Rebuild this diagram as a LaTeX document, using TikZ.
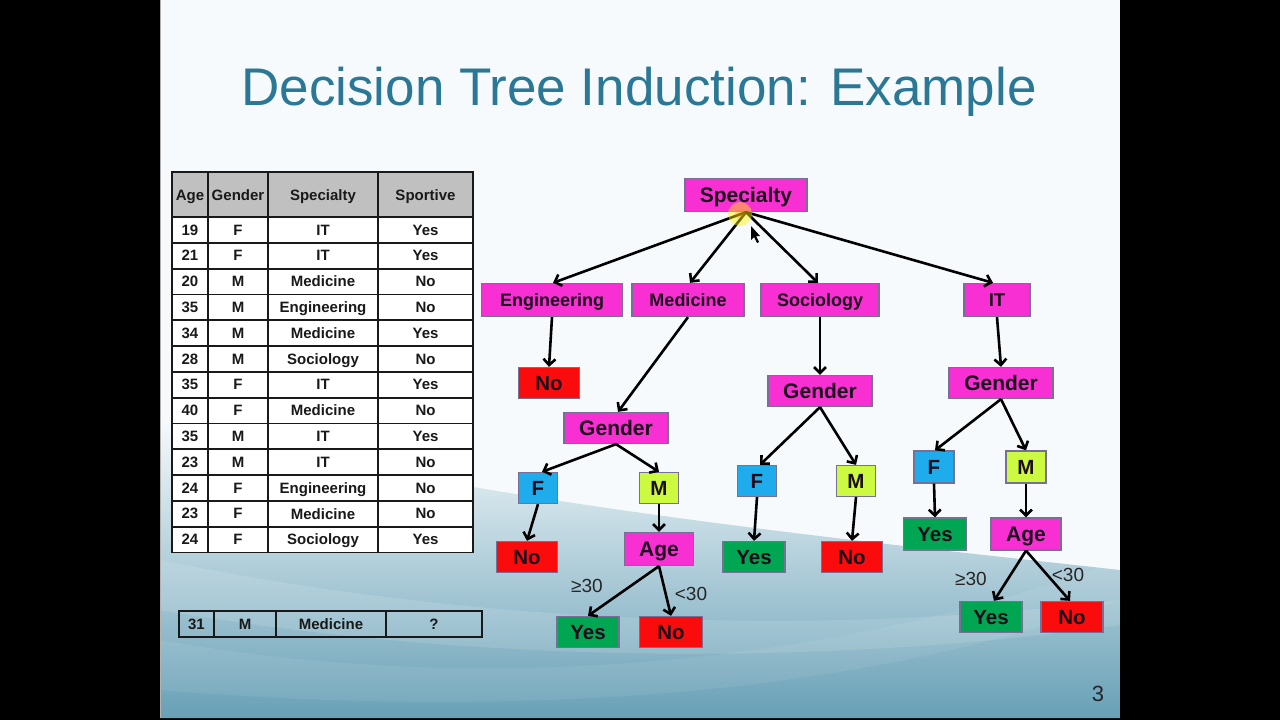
\documentclass[tikz,border=0pt]{standalone}
\usepackage{fontspec}
\setmainfont{Liberation Sans}
\usetikzlibrary{arrows.meta}
\definecolor{slidetop}{RGB}{246,250,252}
\definecolor{slidebot}{RGB}{104,160,182}
\definecolor{titlecol}{RGB}{42,120,150}
\definecolor{magfill}{RGB}{248,48,212}
\definecolor{redfill}{RGB}{250,12,12}
\definecolor{greenfill}{RGB}{0,166,82}
\definecolor{bluefill}{RGB}{30,172,236}
\definecolor{limefill}{RGB}{204,250,64}
\definecolor{boxedge}{RGB}{118,112,150}
\definecolor{headgray}{RGB}{192,192,192}
\definecolor{txtdark}{RGB}{28,12,28}
\newcommand{\fs}[1]{\fontsize{#1}{#1}\selectfont}
\tikzset{
  tbox/.style={draw=boxedge, line width=1.3pt, inner sep=0pt, text=txtdark, font=\fs{20.5}\bfseries, text depth=0pt},
  magbox/.style={tbox, fill=magfill},
  redbox/.style={tbox, fill=redfill},
  greenbox/.style={tbox, fill=greenfill},
  bluebox/.style={tbox, fill=bluefill},
  limebox/.style={tbox, fill=limefill},
  arr/.style={line width=2.6pt, -{Straight Barb[length=6pt,width=12pt]}, black},
  edgelab/.style={font=\fs{19}, text=black!85, inner sep=0pt},
  celltxt/.style={font=\fs{15}\bfseries, inner sep=0pt, text=black!90, text depth=0pt},
  tline/.style={line width=1.8pt, black!90}
}
\begin{document}
\begin{tikzpicture}[x=1pt,y=-1pt]
\useasboundingbox (0,0) rectangle (1280,720);
% background
\fill[black] (0,0) rectangle (1280,720);
\fill[slidetop] (160,0) rectangle (1120,718);
\shade[top color=slidetop, bottom color=slidebot]
  (160,420) .. controls (450,500) and (850,540) .. (1120,570) -- (1120,718) -- (160,718) -- cycle;
\fill[white, opacity=0.12]
  (160,560) .. controls (450,620) and (800,640) .. (1120,600) -- (1120,625) .. controls (800,670) and (450,660) .. (160,610) -- cycle;
\fill[white, opacity=0.07]
  (160,640) .. controls (500,700) and (850,660) .. (1120,560) -- (1120,600) .. controls (850,700) and (500,718) .. (160,690) -- cycle;
\draw[gray!60, line width=1pt] (160.5,0) -- (160.5,718);
% title
\node[font=\fs{53}, text=titlecol, inner sep=0pt] (title) at (639,92) {Decision Tree Induction: Example};
% page number
\node[font=\fs{22}, text=black!85, inner sep=0pt] (pagenum) at (1098,694) {3};

% ---- table ----
\fill[headgray] (172,172) rectangle (473,217);
\fill[white] (172,217) rectangle (473,552.4);
\foreach \i in {1,...,12} { \draw[tline] (172,217+\i*25.8) -- (473,217+\i*25.8); }
\draw[tline] (172,217) -- (473,217);
\foreach \x in {208,268,378} { \draw[tline] (\x,172) -- (\x,552.4); }
\draw[tline] (172,172) rectangle (473,552.4);
\node[celltxt] (h1) at (190,195) {Age};
\node[celltxt] (h2) at (238,195) {Gender};
\node[celltxt] (h3) at (323,195) {Specialty};
\node[celltxt] (h4) at (425.5,195) {Sportive};
\foreach \a/\g/\s/\p [count=\r] in {19/F/IT/Yes,21/F/IT/Yes,20/M/Medicine/No,35/M/Engineering/No,34/M/Medicine/Yes,28/M/Sociology/No,35/F/IT/Yes,40/F/Medicine/No,35/M/IT/Yes,23/M/IT/No,24/F/Engineering/No,23/F/Medicine/No,24/F/Sociology/Yes} {
  \node[celltxt] (c\r a) at (190,217+\r*25.8-12.9) {\a};
  \node[celltxt] (c\r g) at (238,217+\r*25.8-12.9) {\g};
  \node[celltxt] (c\r s) at (323,217+\r*25.8-12.9) {\s};
  \node[celltxt] (c\r p) at (425.5,217+\r*25.8-12.9) {\p};
}
% query row
\draw[tline] (179,611) rectangle (482,637);
\foreach \x in {214,276,386} { \draw[tline] (\x,611) -- (\x,637); }
\node[celltxt] (q1) at (196.5,624) {31};
\node[celltxt] (q2) at (245,624) {M};
\node[celltxt] (q3) at (331,624) {Medicine};
\node[celltxt] (q4) at (434,624) {?};

% ---- tree ----
\node[magbox, font=\fs{21}\bfseries, minimum width=122pt, minimum height=33pt] (spec) at (746,195) {Specialty};
\node[magbox, font=\fs{18}\bfseries, minimum width=141pt, minimum height=33pt] (eng) at (552,300) {Engineering};
\node[magbox, font=\fs{18}\bfseries, minimum width=112pt, minimum height=33pt] (med) at (688,300) {Medicine};
\node[magbox, font=\fs{18}\bfseries, minimum width=118pt, minimum height=33pt] (soc) at (820,300) {Sociology};
\node[magbox, font=\fs{18.5}\bfseries, minimum width=66pt, minimum height=33pt] (it) at (997,300) {IT};

\node[redbox, minimum width=61pt, minimum height=31pt] (engno) at (549,383) {No};

\node[magbox, font=\fs{21}\bfseries, minimum width=104pt, minimum height=31pt] (gmed) at (616,428) {Gender};
\node[bluebox, minimum width=39pt, minimum height=31pt] (fmed) at (538,488) {F};
\node[limebox, minimum width=39pt, minimum height=31pt] (mmed) at (659,488) {M};
\node[redbox, minimum width=61pt, minimum height=31pt] (fmedno) at (527,557) {No};
\node[magbox, font=\fs{21}\bfseries, minimum width=69pt, minimum height=33pt] (agemed) at (659,549) {Age};
\node[greenbox, minimum width=62pt, minimum height=31pt] (agemedyes) at (588,632) {Yes};
\node[redbox, minimum width=63pt, minimum height=31pt] (agemedno) at (671,632) {No};

\node[magbox, font=\fs{21}\bfseries, minimum width=104pt, minimum height=31pt] (gsoc) at (820,391) {Gender};
\node[bluebox, minimum width=39pt, minimum height=31pt] (fsoc) at (757,481) {F};
\node[limebox, minimum width=39pt, minimum height=31pt] (msoc) at (856,481) {M};
\node[greenbox, minimum width=62pt, minimum height=31pt] (fsocyes) at (754,557) {Yes};
\node[redbox, minimum width=61pt, minimum height=31pt] (msocno) at (852,557) {No};

\node[magbox, font=\fs{21}\bfseries, minimum width=104pt, minimum height=31pt] (git) at (1001,383) {Gender};
\node[bluebox, minimum width=40pt, minimum height=32pt] (fit) at (934,467) {F};
\node[limebox, minimum width=40pt, minimum height=32pt] (mit) at (1026,467) {M};
\node[greenbox, minimum width=63pt, minimum height=32pt] (fityes) at (935,534) {Yes};
\node[magbox, font=\fs{21}\bfseries, minimum width=70pt, minimum height=32pt] (ageit) at (1026,534) {Age};
\node[greenbox, minimum width=62pt, minimum height=31pt] (ageityes) at (991,617) {Yes};
\node[redbox, minimum width=62pt, minimum height=31pt] (ageitno) at (1072,617) {No};

% arrows
\draw[arr] (spec.south) -- ([xshift=1pt]eng.north);
\draw[arr] (spec.south) -- ([xshift=2pt]med.north);
\draw[arr] (spec.south) -- ([xshift=-2pt]soc.north);
\draw[arr] (spec.south) -- ([xshift=-4pt]it.north);
\draw[arr] (eng.south) -- (engno.north);
\draw[arr] (med.south) -- ([xshift=2pt]gmed.north);
\draw[arr] (gmed.south) -- ([xshift=4pt]fmed.north);
\draw[arr] (gmed.south) -- (mmed.north);
\draw[arr] (fmed.south) -- (fmedno.north);
\draw[arr] (mmed.south) -- (agemed.north);
\draw[arr] (agemed.south) -- (agemedyes.north);
\draw[arr] (agemed.south) -- (agemedno.north);
\draw[arr] (soc.south) -- (gsoc.north);
\draw[arr] (gsoc.south) -- ([xshift=3pt]fsoc.north);
\draw[arr] (gsoc.south) -- (msoc.north);
\draw[arr] (fsoc.south) -- (fsocyes.north);
\draw[arr] (msoc.south) -- (msocno.north);
\draw[arr] (it.south) -- (git.north);
\draw[arr] (git.south) -- ([xshift=1pt]fit.north);
\draw[arr] (git.south) -- (mit.north);
\draw[arr] (fit.south) -- (fityes.north);
\draw[arr] (mit.south) -- (ageit.north);
\draw[arr] (ageit.south) -- ([xshift=3pt]ageityes.north);
\draw[arr] (ageit.south) -- ([xshift=-2pt]ageitno.north);

% edge labels
\node[edgelab] (l1) at (587,586) {≥30};
\node[edgelab] (l2) at (691,594) {<30};
\node[edgelab] (l3) at (971,579) {≥30};
\node[edgelab] (l4) at (1068,575) {<30};

% pointer highlight and cursor
\fill[yellow, opacity=0.45] (740,214) circle (12);
\fill[orange, opacity=0.25] (740,214) circle (5);
\fill[black] (751,226) -- (751,240) -- (754,237) -- (757,243) -- (759,242) -- (756,236) -- (760,236) -- cycle;
\end{tikzpicture}
\end{document}
